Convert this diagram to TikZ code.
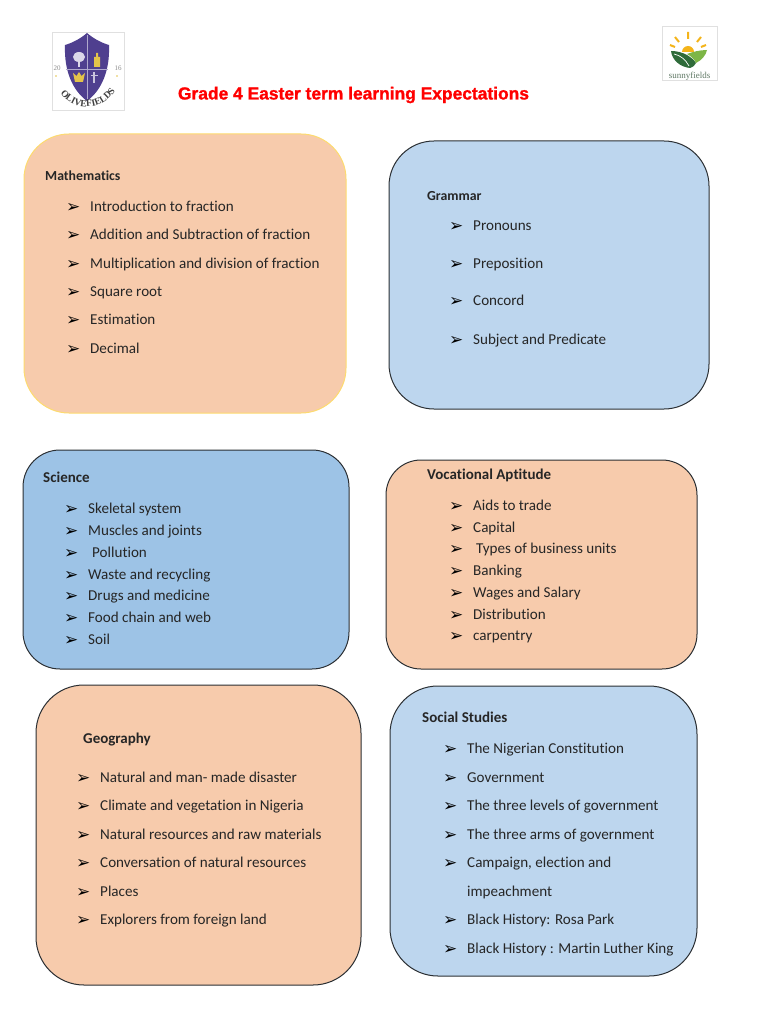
\documentclass[tikz,border=0pt]{standalone}
\usepackage{fontspec}
\setmainfont{Carlito}[Ligatures=NoCommon]
\newfontfamily\titlefont{Liberation Sans}[BoldFeatures={FakeBold=1.3}]
\newfontfamily\arrowfont{DejaVu Sans}
\newfontfamily\crestfont{Liberation Serif}
\usetikzlibrary{decorations.text}
\definecolor{peach}{HTML}{F7CBAC}
\definecolor{paleblue}{HTML}{BDD6EE}
\definecolor{midblue}{HTML}{9DC3E6}
\definecolor{edgedark}{HTML}{2B2F33}
\definecolor{shield}{HTML}{4F3F8F}
\definecolor{crown}{HTML}{E3C34A}
\definecolor{sunny}{HTML}{F4B41A}
\definecolor{fielddark}{HTML}{2F6B3A}
\definecolor{fieldlight}{HTML}{7DB646}
\tikzset{
  panel/.style={draw=edgedark, line width=1pt, minimum width=#1, inner sep=0pt},
  heading/.style={anchor=west, inner sep=0pt, text height=10pt, text depth=3pt, yshift=-2pt,
    font=\fontsize{13.8}{15}\selectfont\bfseries, text=black!85},
  bigheading/.style={heading, font=\fontsize{15}{16}\selectfont\bfseries},
  entrytext/.style={anchor=west, inner sep=0pt, text height=10pt, text depth=3pt, yshift=-1.8pt,
    font=\fontsize{15.1}{16}\selectfont, text=black!85},
  entry/.style={entrytext, label={[arrowmark]left:\char"27A2}},
  arrowmark/.style={inner sep=0pt, label distance=9.5pt, font=\arrowfont\fontsize{17}{18}\selectfont, text=black},
  yeartext/.style={font=\crestfont\fontsize{7}{8}\selectfont, text=black!45, inner sep=0pt},
  rayline/.style={draw=sunny, line width=2pt},
}
\begin{document}
\begin{tikzpicture}[x=1pt, y=-1pt]
\useasboundingbox (0,0) rectangle (768,1024);

% left logo
\draw[black!12, fill=white] (52,32) rectangle (124,110);
\fill[shield] (87,33) .. controls (80,39) and (72,43) .. (65,45) .. controls (64,70) and (72,90) .. (87,101)
  .. controls (102,90) and (110,70) .. (109,45) .. controls (102,43) and (94,39) .. (87,33) -- cycle;
\draw[shield!45!white, line width=.6pt] (87,35) -- (87,99) (66,69) -- (108,69);
% tree
\fill[white!80!shield] (79,57) ellipse (6 and 5);
\draw[white!80!shield, line width=1.2pt] (79,58) -- (79,67);
% bottle
\fill[crown] (96,53) rectangle (98,57) (94,57) rectangle (100,67);
% crown
\fill[crown] (75,82) -- (73,73) -- (76.5,76) -- (79,72) -- (81.5,76) -- (85,73) -- (83,82) -- cycle;
% cross
\draw[white!70!shield, line width=1.3pt] (94,72) -- (94,83) (90.5,75.5) -- (97.5,75.5);
\node[yeartext] (logoyearl) at (57,68) {20};
\node[yeartext] (logoyearr) at (118,68) {16};
\fill[crown] (56,76) circle (.8) (117,76) circle (.8);
\path[decorate, decoration={text along path, text align=center,
  text={|\crestfont\fontsize{9.5}{11}\selectfont\bfseries\color{black!75}|OLIVEFIELDS}}]
  (56,83) .. controls (65,115) and (109,115) .. (120,81);

% right logo
\draw[black!12, fill=white] (662,26) rectangle (717,80);
\fill[sunny] (682,52) arc (180:360:6) -- cycle;
\path[rayline] (675,47) -- (670,45) (679,42) -- (675,37) (688,39) -- (688,32) (697,42) -- (701,37) (701,47) -- (706,45);
\fill[fielddark] (671,51) .. controls (683,51) and (692,57) .. (696,63) .. controls (694,66) and (692,68) .. (690,68)
  .. controls (680,67) and (672,60) .. (671,51) -- cycle;
\fill[fieldlight] (707,50) .. controls (700,50) and (692,52) .. (687,54) .. controls (691,56) and (695,60) .. (696,63)
  .. controls (702,60) and (706,55) .. (707,50) -- cycle;
\draw[white, line width=.7pt] (674,54) .. controls (680,55) and (686,60) .. (689,66);
\node[font=\crestfont\fontsize{9}{10}\selectfont, text=fielddark!60!black!70, inner sep=0pt] (sunnytext) at (689.5,76) {sunnyfields};

% title
\node[font=\titlefont\bfseries\fontsize{17.4}{18}\selectfont, text=red, inner sep=0pt] (title) at (353.5,95)
{Grade 4 Easter term learning Expectations};

% Mathematics
\node[panel=322pt, draw=yellow!55!orange!55, fill=peach, minimum height=279pt, rounded corners=45pt] (mathbox) at (185,273.5) {};
\node[heading] (mathhead) at (45,175) {Mathematics};
\node[entry] (math1) at (90,206) {Introduction to fraction};
\node[entry] (math2) at (90,234) {Addition and Subtraction of fraction};
\node[entry] (math3) at (90,263) {Multiplication and division of fraction};
\node[entry] (math4) at (90,291) {Square root};
\node[entry] (math5) at (90,319) {Estimation};
\node[entry] (math6) at (90,348) {Decimal};

% Grammar
\node[panel=320pt, fill=paleblue, minimum height=268pt, rounded corners=45pt] (grammarbox) at (549,275) {};
\node[heading] (grammarhead) at (427,195) {Grammar};
\node[entry] (grammar1) at (473,225) {Pronouns};
\node[entry] (grammar2) at (473,263) {Preposition};
\node[entry] (grammar3) at (473,300) {Concord};
\node[entry] (grammar4) at (473,339) {Subject and Predicate};

% Science
\node[panel=326pt, fill=midblue, minimum height=219pt, rounded corners=37pt] (sciencebox) at (186,559.5) {};
\node[bigheading] (sciencehead) at (43,477) {Science};
\node[entry] (science1) at (88,508) {Skeletal system};
\node[entry] (science2) at (88,530) {Muscles and joints};
\node[entry] (science3) at (88,552) {\hspace{4pt}Pollution};
\node[entry] (science4) at (88,574) {Waste and recycling};
\node[entry] (science5) at (88,595) {Drugs and medicine};
\node[entry] (science6) at (88,617) {Food chain and web};
\node[entry] (science7) at (88,639) {Soil};

% Vocational Aptitude
\node[panel=311pt, fill=peach, minimum height=209pt, rounded corners=35pt] (vocbox) at (541.5,564.5) {};
\node[bigheading] (vochead) at (427,474) {Vocational Aptitude};
\node[entry] (voc1) at (473,505) {Aids to trade};
\node[entry] (voc2) at (473,527) {Capital};
\node[entry] (voc3) at (473,548) {\hspace{3pt}Types of business units};
\node[entry] (voc4) at (473,570) {Banking};
\node[entry] (voc5) at (473,592) {Wages and Salary};
\node[entry] (voc6) at (473,614) {Distribution};
\node[entry] (voc7) at (473,635) {carpentry};

% Geography
\node[panel=325pt, fill=peach, minimum height=300pt, rounded corners=48pt] (geobox) at (198.5,835) {};
\node[bigheading] (geohead) at (83,738) {Geography};
\node[entry] (geo1) at (100,777) {Natural and man- made disaster};
\node[entry] (geo2) at (100,805) {Climate and vegetation in Nigeria};
\node[entry] (geo3) at (100,834) {Natural resources and raw materials};
\node[entry] (geo4) at (100,862) {Conversation of natural resources};
\node[entry] (geo5) at (100,891) {Places};
\node[entry] (geo6) at (100,919) {Explorers from foreign land};

% Social Studies
\node[panel=307pt, fill=paleblue, minimum height=290pt, rounded corners=48pt] (socialbox) at (543.5,831) {};
\node[bigheading] (socialhead) at (422,717) {Social Studies};
\node[entry] (social1) at (467,748) {The Nigerian Constitution};
\node[entry] (social2) at (467,777) {Government};
\node[entry] (social3) at (467,805) {The three levels of government};
\node[entry] (social4) at (467,834) {The three arms of government};
\node[entry] (social5) at (467,862) {Campaign, election and};
\node[entrytext] (social5b) at (467,891) {impeachment};
\node[entry] (social6) at (467,919) {Black History: Rosa Park};
\node[entry] (social7) at (467,948) {Black History : Martin Luther King};
\end{tikzpicture}
\end{document}
